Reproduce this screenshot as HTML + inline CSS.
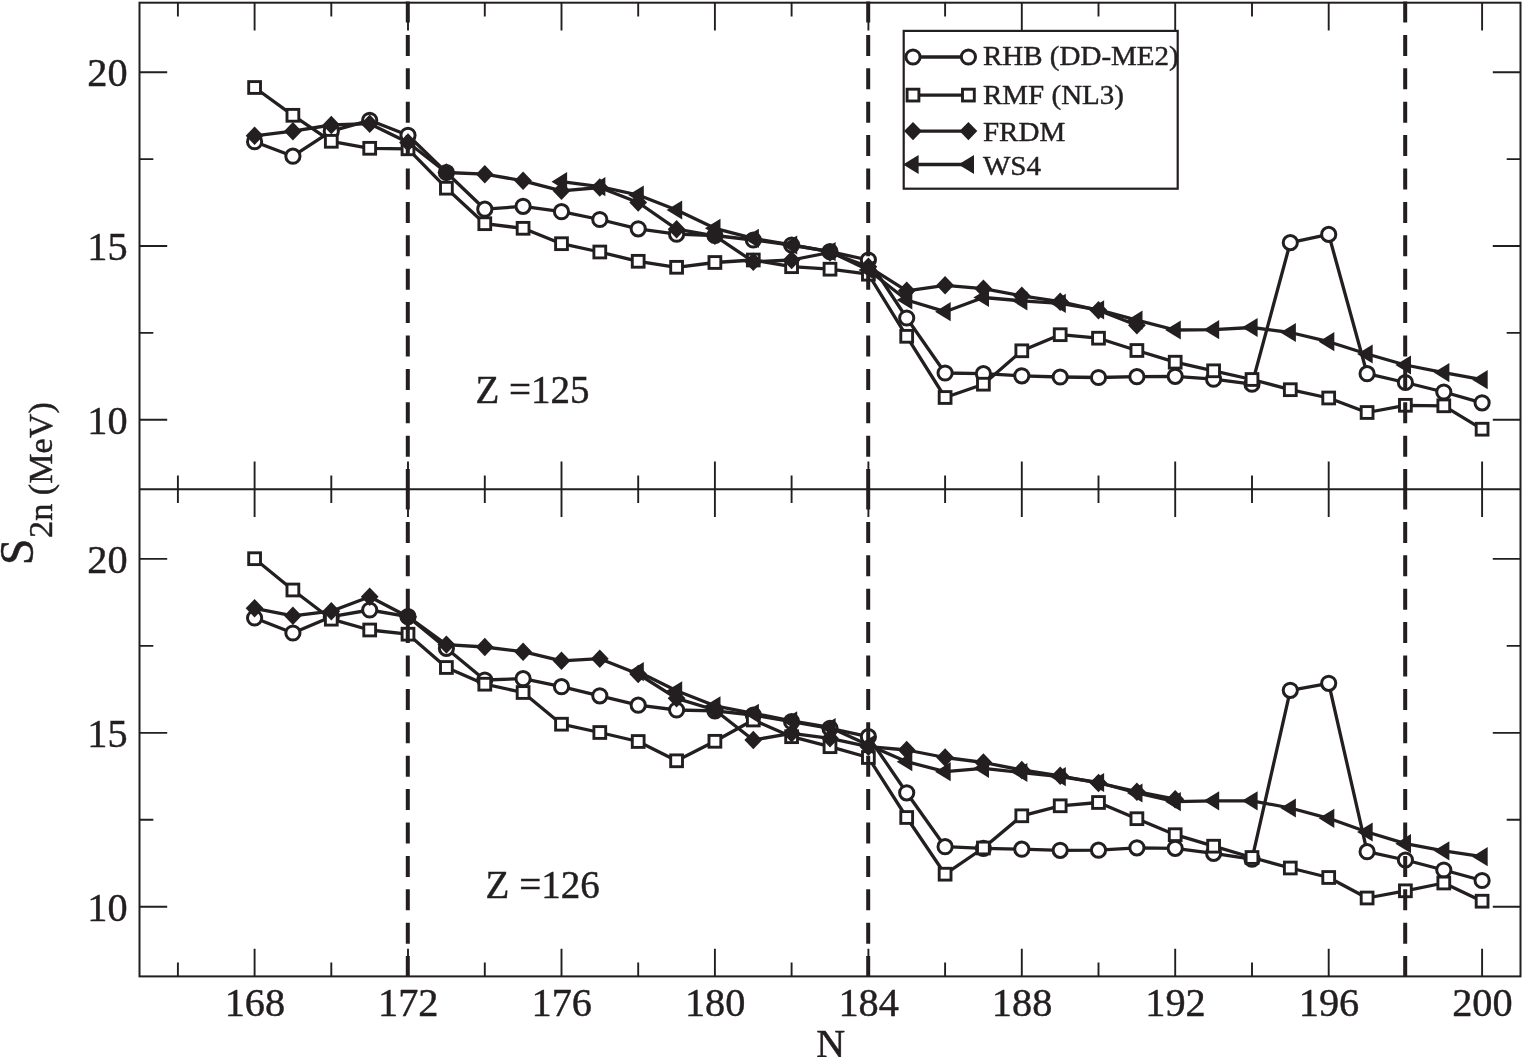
<!DOCTYPE html>
<html lang="en">
<head>
<meta charset="utf-8">
<title>S2n vs N</title>
<style>html,body{margin:0;padding:0;background:#fff}body{width:1523px;height:1057px;overflow:hidden}</style>
</head>
<body>
<svg width="1523" height="1057" viewBox="0 0 1523 1057" style="display:block">
<rect width="1523" height="1057" fill="#fff"/>
<g>
<polyline points="254.6,141.7 292.9,156.2 331.3,131.2 369.7,120.3 408.0,135.3 446.4,172.5 484.8,209.2 523.1,206.3 561.5,211.7 599.8,219.5 638.2,228.8 676.6,234.2 714.9,235.5 753.3,240.0 791.6,245.0 830.0,251.7 868.4,260.0 906.7,318.0 945.1,373.0 983.4,373.7 1021.8,375.8 1060.2,377.0 1098.5,377.5 1136.9,376.7 1175.2,376.3 1213.6,379.2 1252.0,384.2 1290.3,242.6 1328.7,234.4 1367.1,373.7 1405.4,382.5 1443.8,392.0 1482.1,402.8" fill="none" stroke="#231f20" stroke-width="3.3" stroke-linejoin="round"/>
<circle cx="254.6" cy="141.7" r="7.1" fill="#fff" stroke="#231f20" stroke-width="3.0"/>
<circle cx="292.9" cy="156.2" r="7.1" fill="#fff" stroke="#231f20" stroke-width="3.0"/>
<circle cx="331.3" cy="131.2" r="7.1" fill="#fff" stroke="#231f20" stroke-width="3.0"/>
<circle cx="369.7" cy="120.3" r="7.1" fill="#fff" stroke="#231f20" stroke-width="3.0"/>
<circle cx="408.0" cy="135.3" r="7.1" fill="#fff" stroke="#231f20" stroke-width="3.0"/>
<circle cx="446.4" cy="172.5" r="7.1" fill="#fff" stroke="#231f20" stroke-width="3.0"/>
<circle cx="484.8" cy="209.2" r="7.1" fill="#fff" stroke="#231f20" stroke-width="3.0"/>
<circle cx="523.1" cy="206.3" r="7.1" fill="#fff" stroke="#231f20" stroke-width="3.0"/>
<circle cx="561.5" cy="211.7" r="7.1" fill="#fff" stroke="#231f20" stroke-width="3.0"/>
<circle cx="599.8" cy="219.5" r="7.1" fill="#fff" stroke="#231f20" stroke-width="3.0"/>
<circle cx="638.2" cy="228.8" r="7.1" fill="#fff" stroke="#231f20" stroke-width="3.0"/>
<circle cx="676.6" cy="234.2" r="7.1" fill="#fff" stroke="#231f20" stroke-width="3.0"/>
<circle cx="714.9" cy="235.5" r="7.1" fill="#fff" stroke="#231f20" stroke-width="3.0"/>
<circle cx="753.3" cy="240.0" r="7.1" fill="#fff" stroke="#231f20" stroke-width="3.0"/>
<circle cx="791.6" cy="245.0" r="7.1" fill="#fff" stroke="#231f20" stroke-width="3.0"/>
<circle cx="830.0" cy="251.7" r="7.1" fill="#fff" stroke="#231f20" stroke-width="3.0"/>
<circle cx="868.4" cy="260.0" r="7.1" fill="#fff" stroke="#231f20" stroke-width="3.0"/>
<circle cx="906.7" cy="318.0" r="7.1" fill="#fff" stroke="#231f20" stroke-width="3.0"/>
<circle cx="945.1" cy="373.0" r="7.1" fill="#fff" stroke="#231f20" stroke-width="3.0"/>
<circle cx="983.4" cy="373.7" r="7.1" fill="#fff" stroke="#231f20" stroke-width="3.0"/>
<circle cx="1021.8" cy="375.8" r="7.1" fill="#fff" stroke="#231f20" stroke-width="3.0"/>
<circle cx="1060.2" cy="377.0" r="7.1" fill="#fff" stroke="#231f20" stroke-width="3.0"/>
<circle cx="1098.5" cy="377.5" r="7.1" fill="#fff" stroke="#231f20" stroke-width="3.0"/>
<circle cx="1136.9" cy="376.7" r="7.1" fill="#fff" stroke="#231f20" stroke-width="3.0"/>
<circle cx="1175.2" cy="376.3" r="7.1" fill="#fff" stroke="#231f20" stroke-width="3.0"/>
<circle cx="1213.6" cy="379.2" r="7.1" fill="#fff" stroke="#231f20" stroke-width="3.0"/>
<circle cx="1252.0" cy="384.2" r="7.1" fill="#fff" stroke="#231f20" stroke-width="3.0"/>
<circle cx="1290.3" cy="242.6" r="7.1" fill="#fff" stroke="#231f20" stroke-width="3.0"/>
<circle cx="1328.7" cy="234.4" r="7.1" fill="#fff" stroke="#231f20" stroke-width="3.0"/>
<circle cx="1367.1" cy="373.7" r="7.1" fill="#fff" stroke="#231f20" stroke-width="3.0"/>
<circle cx="1405.4" cy="382.5" r="7.1" fill="#fff" stroke="#231f20" stroke-width="3.0"/>
<circle cx="1443.8" cy="392.0" r="7.1" fill="#fff" stroke="#231f20" stroke-width="3.0"/>
<circle cx="1482.1" cy="402.8" r="7.1" fill="#fff" stroke="#231f20" stroke-width="3.0"/>
</g>
<g>
<polyline points="254.6,87.5 292.9,115.3 331.3,141.3 369.7,148.3 408.0,148.8 446.4,188.2 484.8,223.7 523.1,228.3 561.5,243.7 599.8,252.0 638.2,261.3 676.6,267.3 714.9,262.5 753.3,260.0 791.6,266.7 830.0,269.2 868.4,274.2 906.7,336.3 945.1,397.5 983.4,384.2 1021.8,350.8 1060.2,334.7 1098.5,338.2 1136.9,350.5 1175.2,362.2 1213.6,370.8 1252.0,379.5 1290.3,389.7 1328.7,398.0 1367.1,412.5 1405.4,405.3 1443.8,405.8 1482.1,429.2" fill="none" stroke="#231f20" stroke-width="3.3" stroke-linejoin="round"/>
<rect x="248.7" y="81.6" width="11.8" height="11.8" fill="#fff" stroke="#231f20" stroke-width="2.9"/>
<rect x="287.0" y="109.4" width="11.8" height="11.8" fill="#fff" stroke="#231f20" stroke-width="2.9"/>
<rect x="325.4" y="135.4" width="11.8" height="11.8" fill="#fff" stroke="#231f20" stroke-width="2.9"/>
<rect x="363.8" y="142.4" width="11.8" height="11.8" fill="#fff" stroke="#231f20" stroke-width="2.9"/>
<rect x="402.1" y="142.9" width="11.8" height="11.8" fill="#fff" stroke="#231f20" stroke-width="2.9"/>
<rect x="440.5" y="182.3" width="11.8" height="11.8" fill="#fff" stroke="#231f20" stroke-width="2.9"/>
<rect x="478.9" y="217.8" width="11.8" height="11.8" fill="#fff" stroke="#231f20" stroke-width="2.9"/>
<rect x="517.2" y="222.4" width="11.8" height="11.8" fill="#fff" stroke="#231f20" stroke-width="2.9"/>
<rect x="555.6" y="237.8" width="11.8" height="11.8" fill="#fff" stroke="#231f20" stroke-width="2.9"/>
<rect x="593.9" y="246.1" width="11.8" height="11.8" fill="#fff" stroke="#231f20" stroke-width="2.9"/>
<rect x="632.3" y="255.4" width="11.8" height="11.8" fill="#fff" stroke="#231f20" stroke-width="2.9"/>
<rect x="670.7" y="261.4" width="11.8" height="11.8" fill="#fff" stroke="#231f20" stroke-width="2.9"/>
<rect x="709.0" y="256.6" width="11.8" height="11.8" fill="#fff" stroke="#231f20" stroke-width="2.9"/>
<rect x="747.4" y="254.1" width="11.8" height="11.8" fill="#fff" stroke="#231f20" stroke-width="2.9"/>
<rect x="785.7" y="260.8" width="11.8" height="11.8" fill="#fff" stroke="#231f20" stroke-width="2.9"/>
<rect x="824.1" y="263.3" width="11.8" height="11.8" fill="#fff" stroke="#231f20" stroke-width="2.9"/>
<rect x="862.5" y="268.3" width="11.8" height="11.8" fill="#fff" stroke="#231f20" stroke-width="2.9"/>
<rect x="900.8" y="330.4" width="11.8" height="11.8" fill="#fff" stroke="#231f20" stroke-width="2.9"/>
<rect x="939.2" y="391.6" width="11.8" height="11.8" fill="#fff" stroke="#231f20" stroke-width="2.9"/>
<rect x="977.5" y="378.3" width="11.8" height="11.8" fill="#fff" stroke="#231f20" stroke-width="2.9"/>
<rect x="1015.9" y="344.9" width="11.8" height="11.8" fill="#fff" stroke="#231f20" stroke-width="2.9"/>
<rect x="1054.3" y="328.8" width="11.8" height="11.8" fill="#fff" stroke="#231f20" stroke-width="2.9"/>
<rect x="1092.6" y="332.3" width="11.8" height="11.8" fill="#fff" stroke="#231f20" stroke-width="2.9"/>
<rect x="1131.0" y="344.6" width="11.8" height="11.8" fill="#fff" stroke="#231f20" stroke-width="2.9"/>
<rect x="1169.3" y="356.3" width="11.8" height="11.8" fill="#fff" stroke="#231f20" stroke-width="2.9"/>
<rect x="1207.7" y="364.9" width="11.8" height="11.8" fill="#fff" stroke="#231f20" stroke-width="2.9"/>
<rect x="1246.1" y="373.6" width="11.8" height="11.8" fill="#fff" stroke="#231f20" stroke-width="2.9"/>
<rect x="1284.4" y="383.8" width="11.8" height="11.8" fill="#fff" stroke="#231f20" stroke-width="2.9"/>
<rect x="1322.8" y="392.1" width="11.8" height="11.8" fill="#fff" stroke="#231f20" stroke-width="2.9"/>
<rect x="1361.2" y="406.6" width="11.8" height="11.8" fill="#fff" stroke="#231f20" stroke-width="2.9"/>
<rect x="1399.5" y="399.4" width="11.8" height="11.8" fill="#fff" stroke="#231f20" stroke-width="2.9"/>
<rect x="1437.9" y="399.9" width="11.8" height="11.8" fill="#fff" stroke="#231f20" stroke-width="2.9"/>
<rect x="1476.2" y="423.3" width="11.8" height="11.8" fill="#fff" stroke="#231f20" stroke-width="2.9"/>
</g>
<g>
<polyline points="254.6,135.8 292.9,131.2 331.3,125.0 369.7,123.7 408.0,142.5 446.4,172.5 484.8,174.2 523.1,180.8 561.5,190.8 599.8,187.5 638.2,202.5 676.6,229.2 714.9,235.8 753.3,261.7 791.6,260.0 830.0,252.5 868.4,266.7 906.7,290.8 945.1,285.3 983.4,288.7 1021.8,295.8 1060.2,301.7 1098.5,310.3 1136.9,325.2" fill="none" stroke="#231f20" stroke-width="3.3" stroke-linejoin="round"/>
<polygon points="245.7,135.8 254.6,126.6 263.5,135.8 254.6,145.0" fill="#231f20"/>
<polygon points="284.0,131.2 292.9,122.0 301.8,131.2 292.9,140.4" fill="#231f20"/>
<polygon points="322.4,125.0 331.3,115.8 340.2,125.0 331.3,134.2" fill="#231f20"/>
<polygon points="360.8,123.7 369.7,114.5 378.6,123.7 369.7,132.9" fill="#231f20"/>
<polygon points="399.1,142.5 408.0,133.3 416.9,142.5 408.0,151.7" fill="#231f20"/>
<polygon points="437.5,172.5 446.4,163.3 455.3,172.5 446.4,181.7" fill="#231f20"/>
<polygon points="475.9,174.2 484.8,165.0 493.6,174.2 484.8,183.4" fill="#231f20"/>
<polygon points="514.2,180.8 523.1,171.6 532.0,180.8 523.1,190.0" fill="#231f20"/>
<polygon points="552.6,190.8 561.5,181.6 570.4,190.8 561.5,200.0" fill="#231f20"/>
<polygon points="590.9,187.5 599.8,178.3 608.7,187.5 599.8,196.7" fill="#231f20"/>
<polygon points="629.3,202.5 638.2,193.3 647.1,202.5 638.2,211.7" fill="#231f20"/>
<polygon points="667.7,229.2 676.6,220.0 685.5,229.2 676.6,238.4" fill="#231f20"/>
<polygon points="706.0,235.8 714.9,226.6 723.8,235.8 714.9,245.0" fill="#231f20"/>
<polygon points="744.4,261.7 753.3,252.5 762.2,261.7 753.3,270.9" fill="#231f20"/>
<polygon points="782.7,260.0 791.6,250.8 800.5,260.0 791.6,269.2" fill="#231f20"/>
<polygon points="821.1,252.5 830.0,243.3 838.9,252.5 830.0,261.7" fill="#231f20"/>
<polygon points="859.5,266.7 868.4,257.5 877.3,266.7 868.4,275.9" fill="#231f20"/>
<polygon points="897.8,290.8 906.7,281.6 915.6,290.8 906.7,300.0" fill="#231f20"/>
<polygon points="936.2,285.3 945.1,276.1 954.0,285.3 945.1,294.5" fill="#231f20"/>
<polygon points="974.5,288.7 983.4,279.5 992.3,288.7 983.4,297.9" fill="#231f20"/>
<polygon points="1012.9,295.8 1021.8,286.6 1030.7,295.8 1021.8,305.0" fill="#231f20"/>
<polygon points="1051.3,301.7 1060.2,292.5 1069.1,301.7 1060.2,310.9" fill="#231f20"/>
<polygon points="1089.6,310.3 1098.5,301.1 1107.4,310.3 1098.5,319.5" fill="#231f20"/>
<polygon points="1128.0,325.2 1136.9,316.0 1145.8,325.2 1136.9,334.4" fill="#231f20"/>
</g>
<g>
<polyline points="561.5,181.7 599.8,186.7 638.2,195.0 676.6,210.0 714.9,228.3 753.3,238.3 791.6,245.0 830.0,251.7 868.4,270.0 906.7,300.0 945.1,311.7 983.4,297.5 1021.8,300.8 1060.2,303.3 1098.5,309.8 1136.9,320.2 1175.2,330.0 1213.6,329.7 1252.0,327.5 1290.3,332.5 1328.7,341.7 1367.1,354.0 1405.4,365.0 1443.8,372.6 1482.1,379.7" fill="none" stroke="#231f20" stroke-width="3.3" stroke-linejoin="round"/>
<polygon points="551.5,181.7 567.1,172.1 567.1,191.3" fill="#231f20"/>
<polygon points="589.8,186.7 605.4,177.1 605.4,196.3" fill="#231f20"/>
<polygon points="628.2,195.0 643.8,185.4 643.8,204.6" fill="#231f20"/>
<polygon points="666.6,210.0 682.2,200.4 682.2,219.6" fill="#231f20"/>
<polygon points="704.9,228.3 720.5,218.7 720.5,237.9" fill="#231f20"/>
<polygon points="743.3,238.3 758.9,228.7 758.9,247.9" fill="#231f20"/>
<polygon points="781.6,245.0 797.2,235.4 797.2,254.6" fill="#231f20"/>
<polygon points="820.0,251.7 835.6,242.1 835.6,261.3" fill="#231f20"/>
<polygon points="858.4,270.0 874.0,260.4 874.0,279.6" fill="#231f20"/>
<polygon points="896.7,300.0 912.3,290.4 912.3,309.6" fill="#231f20"/>
<polygon points="935.1,311.7 950.7,302.1 950.7,321.3" fill="#231f20"/>
<polygon points="973.4,297.5 989.0,287.9 989.0,307.1" fill="#231f20"/>
<polygon points="1011.8,300.8 1027.4,291.2 1027.4,310.4" fill="#231f20"/>
<polygon points="1050.2,303.3 1065.8,293.7 1065.8,312.9" fill="#231f20"/>
<polygon points="1088.5,309.8 1104.1,300.2 1104.1,319.4" fill="#231f20"/>
<polygon points="1126.9,320.2 1142.5,310.6 1142.5,329.8" fill="#231f20"/>
<polygon points="1165.2,330.0 1180.8,320.4 1180.8,339.6" fill="#231f20"/>
<polygon points="1203.6,329.7 1219.2,320.1 1219.2,339.3" fill="#231f20"/>
<polygon points="1242.0,327.5 1257.6,317.9 1257.6,337.1" fill="#231f20"/>
<polygon points="1280.3,332.5 1295.9,322.9 1295.9,342.1" fill="#231f20"/>
<polygon points="1318.7,341.7 1334.3,332.1 1334.3,351.3" fill="#231f20"/>
<polygon points="1357.1,354.0 1372.7,344.4 1372.7,363.6" fill="#231f20"/>
<polygon points="1395.4,365.0 1411.0,355.4 1411.0,374.6" fill="#231f20"/>
<polygon points="1433.8,372.6 1449.4,363.0 1449.4,382.2" fill="#231f20"/>
<polygon points="1472.1,379.7 1487.7,370.1 1487.7,389.3" fill="#231f20"/>
</g>
<g>
<polyline points="254.6,618.0 292.9,633.0 331.3,616.7 369.7,610.0 408.0,616.7 446.4,648.3 484.8,680.0 523.1,678.7 561.5,686.7 599.8,695.8 638.2,705.2 676.6,710.0 714.9,710.8 753.3,715.0 791.6,721.7 830.0,728.3 868.4,736.7 906.7,792.8 945.1,846.7 983.4,848.3 1021.8,849.2 1060.2,850.3 1098.5,850.2 1136.9,847.8 1175.2,848.3 1213.6,853.3 1252.0,859.2 1290.3,690.3 1328.7,683.3 1367.1,851.7 1405.4,860.0 1443.8,870.0 1482.1,880.5" fill="none" stroke="#231f20" stroke-width="3.3" stroke-linejoin="round"/>
<circle cx="254.6" cy="618.0" r="7.1" fill="#fff" stroke="#231f20" stroke-width="3.0"/>
<circle cx="292.9" cy="633.0" r="7.1" fill="#fff" stroke="#231f20" stroke-width="3.0"/>
<circle cx="331.3" cy="616.7" r="7.1" fill="#fff" stroke="#231f20" stroke-width="3.0"/>
<circle cx="369.7" cy="610.0" r="7.1" fill="#fff" stroke="#231f20" stroke-width="3.0"/>
<circle cx="408.0" cy="616.7" r="7.1" fill="#fff" stroke="#231f20" stroke-width="3.0"/>
<circle cx="446.4" cy="648.3" r="7.1" fill="#fff" stroke="#231f20" stroke-width="3.0"/>
<circle cx="484.8" cy="680.0" r="7.1" fill="#fff" stroke="#231f20" stroke-width="3.0"/>
<circle cx="523.1" cy="678.7" r="7.1" fill="#fff" stroke="#231f20" stroke-width="3.0"/>
<circle cx="561.5" cy="686.7" r="7.1" fill="#fff" stroke="#231f20" stroke-width="3.0"/>
<circle cx="599.8" cy="695.8" r="7.1" fill="#fff" stroke="#231f20" stroke-width="3.0"/>
<circle cx="638.2" cy="705.2" r="7.1" fill="#fff" stroke="#231f20" stroke-width="3.0"/>
<circle cx="676.6" cy="710.0" r="7.1" fill="#fff" stroke="#231f20" stroke-width="3.0"/>
<circle cx="714.9" cy="710.8" r="7.1" fill="#fff" stroke="#231f20" stroke-width="3.0"/>
<circle cx="753.3" cy="715.0" r="7.1" fill="#fff" stroke="#231f20" stroke-width="3.0"/>
<circle cx="791.6" cy="721.7" r="7.1" fill="#fff" stroke="#231f20" stroke-width="3.0"/>
<circle cx="830.0" cy="728.3" r="7.1" fill="#fff" stroke="#231f20" stroke-width="3.0"/>
<circle cx="868.4" cy="736.7" r="7.1" fill="#fff" stroke="#231f20" stroke-width="3.0"/>
<circle cx="906.7" cy="792.8" r="7.1" fill="#fff" stroke="#231f20" stroke-width="3.0"/>
<circle cx="945.1" cy="846.7" r="7.1" fill="#fff" stroke="#231f20" stroke-width="3.0"/>
<circle cx="983.4" cy="848.3" r="7.1" fill="#fff" stroke="#231f20" stroke-width="3.0"/>
<circle cx="1021.8" cy="849.2" r="7.1" fill="#fff" stroke="#231f20" stroke-width="3.0"/>
<circle cx="1060.2" cy="850.3" r="7.1" fill="#fff" stroke="#231f20" stroke-width="3.0"/>
<circle cx="1098.5" cy="850.2" r="7.1" fill="#fff" stroke="#231f20" stroke-width="3.0"/>
<circle cx="1136.9" cy="847.8" r="7.1" fill="#fff" stroke="#231f20" stroke-width="3.0"/>
<circle cx="1175.2" cy="848.3" r="7.1" fill="#fff" stroke="#231f20" stroke-width="3.0"/>
<circle cx="1213.6" cy="853.3" r="7.1" fill="#fff" stroke="#231f20" stroke-width="3.0"/>
<circle cx="1252.0" cy="859.2" r="7.1" fill="#fff" stroke="#231f20" stroke-width="3.0"/>
<circle cx="1290.3" cy="690.3" r="7.1" fill="#fff" stroke="#231f20" stroke-width="3.0"/>
<circle cx="1328.7" cy="683.3" r="7.1" fill="#fff" stroke="#231f20" stroke-width="3.0"/>
<circle cx="1367.1" cy="851.7" r="7.1" fill="#fff" stroke="#231f20" stroke-width="3.0"/>
<circle cx="1405.4" cy="860.0" r="7.1" fill="#fff" stroke="#231f20" stroke-width="3.0"/>
<circle cx="1443.8" cy="870.0" r="7.1" fill="#fff" stroke="#231f20" stroke-width="3.0"/>
<circle cx="1482.1" cy="880.5" r="7.1" fill="#fff" stroke="#231f20" stroke-width="3.0"/>
</g>
<g>
<polyline points="254.6,558.7 292.9,590.0 331.3,619.2 369.7,630.0 408.0,634.2 446.4,667.5 484.8,684.2 523.1,692.5 561.5,724.2 599.8,732.5 638.2,741.5 676.6,760.8 714.9,741.3 753.3,720.0 791.6,736.7 830.0,746.7 868.4,757.5 906.7,817.5 945.1,874.2 983.4,848.0 1021.8,815.8 1060.2,805.8 1098.5,802.5 1136.9,818.7 1175.2,834.7 1213.6,846.2 1252.0,857.5 1290.3,868.0 1328.7,877.5 1367.1,898.0 1405.4,890.8 1443.8,883.0 1482.1,901.2" fill="none" stroke="#231f20" stroke-width="3.3" stroke-linejoin="round"/>
<rect x="248.7" y="552.8" width="11.8" height="11.8" fill="#fff" stroke="#231f20" stroke-width="2.9"/>
<rect x="287.0" y="584.1" width="11.8" height="11.8" fill="#fff" stroke="#231f20" stroke-width="2.9"/>
<rect x="325.4" y="613.3" width="11.8" height="11.8" fill="#fff" stroke="#231f20" stroke-width="2.9"/>
<rect x="363.8" y="624.1" width="11.8" height="11.8" fill="#fff" stroke="#231f20" stroke-width="2.9"/>
<rect x="402.1" y="628.3" width="11.8" height="11.8" fill="#fff" stroke="#231f20" stroke-width="2.9"/>
<rect x="440.5" y="661.6" width="11.8" height="11.8" fill="#fff" stroke="#231f20" stroke-width="2.9"/>
<rect x="478.9" y="678.3" width="11.8" height="11.8" fill="#fff" stroke="#231f20" stroke-width="2.9"/>
<rect x="517.2" y="686.6" width="11.8" height="11.8" fill="#fff" stroke="#231f20" stroke-width="2.9"/>
<rect x="555.6" y="718.3" width="11.8" height="11.8" fill="#fff" stroke="#231f20" stroke-width="2.9"/>
<rect x="593.9" y="726.6" width="11.8" height="11.8" fill="#fff" stroke="#231f20" stroke-width="2.9"/>
<rect x="632.3" y="735.6" width="11.8" height="11.8" fill="#fff" stroke="#231f20" stroke-width="2.9"/>
<rect x="670.7" y="754.9" width="11.8" height="11.8" fill="#fff" stroke="#231f20" stroke-width="2.9"/>
<rect x="709.0" y="735.4" width="11.8" height="11.8" fill="#fff" stroke="#231f20" stroke-width="2.9"/>
<rect x="747.4" y="714.1" width="11.8" height="11.8" fill="#fff" stroke="#231f20" stroke-width="2.9"/>
<rect x="785.7" y="730.8" width="11.8" height="11.8" fill="#fff" stroke="#231f20" stroke-width="2.9"/>
<rect x="824.1" y="740.8" width="11.8" height="11.8" fill="#fff" stroke="#231f20" stroke-width="2.9"/>
<rect x="862.5" y="751.6" width="11.8" height="11.8" fill="#fff" stroke="#231f20" stroke-width="2.9"/>
<rect x="900.8" y="811.6" width="11.8" height="11.8" fill="#fff" stroke="#231f20" stroke-width="2.9"/>
<rect x="939.2" y="868.3" width="11.8" height="11.8" fill="#fff" stroke="#231f20" stroke-width="2.9"/>
<rect x="977.5" y="842.1" width="11.8" height="11.8" fill="#fff" stroke="#231f20" stroke-width="2.9"/>
<rect x="1015.9" y="809.9" width="11.8" height="11.8" fill="#fff" stroke="#231f20" stroke-width="2.9"/>
<rect x="1054.3" y="799.9" width="11.8" height="11.8" fill="#fff" stroke="#231f20" stroke-width="2.9"/>
<rect x="1092.6" y="796.6" width="11.8" height="11.8" fill="#fff" stroke="#231f20" stroke-width="2.9"/>
<rect x="1131.0" y="812.8" width="11.8" height="11.8" fill="#fff" stroke="#231f20" stroke-width="2.9"/>
<rect x="1169.3" y="828.8" width="11.8" height="11.8" fill="#fff" stroke="#231f20" stroke-width="2.9"/>
<rect x="1207.7" y="840.3" width="11.8" height="11.8" fill="#fff" stroke="#231f20" stroke-width="2.9"/>
<rect x="1246.1" y="851.6" width="11.8" height="11.8" fill="#fff" stroke="#231f20" stroke-width="2.9"/>
<rect x="1284.4" y="862.1" width="11.8" height="11.8" fill="#fff" stroke="#231f20" stroke-width="2.9"/>
<rect x="1322.8" y="871.6" width="11.8" height="11.8" fill="#fff" stroke="#231f20" stroke-width="2.9"/>
<rect x="1361.2" y="892.1" width="11.8" height="11.8" fill="#fff" stroke="#231f20" stroke-width="2.9"/>
<rect x="1399.5" y="884.9" width="11.8" height="11.8" fill="#fff" stroke="#231f20" stroke-width="2.9"/>
<rect x="1437.9" y="877.1" width="11.8" height="11.8" fill="#fff" stroke="#231f20" stroke-width="2.9"/>
<rect x="1476.2" y="895.3" width="11.8" height="11.8" fill="#fff" stroke="#231f20" stroke-width="2.9"/>
</g>
<g>
<polyline points="254.6,608.3 292.9,615.8 331.3,611.2 369.7,596.7 408.0,616.7 446.4,644.6 484.8,647.0 523.1,651.7 561.5,660.8 599.8,658.7 638.2,674.0 676.6,698.3 714.9,710.0 753.3,740.0 791.6,733.3 830.0,738.3 868.4,746.7 906.7,750.0 945.1,757.5 983.4,762.5 1021.8,770.0 1060.2,775.8 1098.5,783.0 1136.9,791.7 1175.2,799.2" fill="none" stroke="#231f20" stroke-width="3.3" stroke-linejoin="round"/>
<polygon points="245.7,608.3 254.6,599.1 263.5,608.3 254.6,617.5" fill="#231f20"/>
<polygon points="284.0,615.8 292.9,606.6 301.8,615.8 292.9,625.0" fill="#231f20"/>
<polygon points="322.4,611.2 331.3,602.0 340.2,611.2 331.3,620.4" fill="#231f20"/>
<polygon points="360.8,596.7 369.7,587.5 378.6,596.7 369.7,605.9" fill="#231f20"/>
<polygon points="399.1,616.7 408.0,607.5 416.9,616.7 408.0,625.9" fill="#231f20"/>
<polygon points="437.5,644.6 446.4,635.4 455.3,644.6 446.4,653.8" fill="#231f20"/>
<polygon points="475.9,647.0 484.8,637.8 493.6,647.0 484.8,656.2" fill="#231f20"/>
<polygon points="514.2,651.7 523.1,642.5 532.0,651.7 523.1,660.9" fill="#231f20"/>
<polygon points="552.6,660.8 561.5,651.6 570.4,660.8 561.5,670.0" fill="#231f20"/>
<polygon points="590.9,658.7 599.8,649.5 608.7,658.7 599.8,667.9" fill="#231f20"/>
<polygon points="629.3,674.0 638.2,664.8 647.1,674.0 638.2,683.2" fill="#231f20"/>
<polygon points="667.7,698.3 676.6,689.1 685.5,698.3 676.6,707.5" fill="#231f20"/>
<polygon points="706.0,710.0 714.9,700.8 723.8,710.0 714.9,719.2" fill="#231f20"/>
<polygon points="744.4,740.0 753.3,730.8 762.2,740.0 753.3,749.2" fill="#231f20"/>
<polygon points="782.7,733.3 791.6,724.1 800.5,733.3 791.6,742.5" fill="#231f20"/>
<polygon points="821.1,738.3 830.0,729.1 838.9,738.3 830.0,747.5" fill="#231f20"/>
<polygon points="859.5,746.7 868.4,737.5 877.3,746.7 868.4,755.9" fill="#231f20"/>
<polygon points="897.8,750.0 906.7,740.8 915.6,750.0 906.7,759.2" fill="#231f20"/>
<polygon points="936.2,757.5 945.1,748.3 954.0,757.5 945.1,766.7" fill="#231f20"/>
<polygon points="974.5,762.5 983.4,753.3 992.3,762.5 983.4,771.7" fill="#231f20"/>
<polygon points="1012.9,770.0 1021.8,760.8 1030.7,770.0 1021.8,779.2" fill="#231f20"/>
<polygon points="1051.3,775.8 1060.2,766.6 1069.1,775.8 1060.2,785.0" fill="#231f20"/>
<polygon points="1089.6,783.0 1098.5,773.8 1107.4,783.0 1098.5,792.2" fill="#231f20"/>
<polygon points="1128.0,791.7 1136.9,782.5 1145.8,791.7 1136.9,800.9" fill="#231f20"/>
<polygon points="1166.3,799.2 1175.2,790.0 1184.2,799.2 1175.2,808.4" fill="#231f20"/>
</g>
<g>
<polyline points="638.2,671.7 676.6,690.8 714.9,705.8 753.3,713.3 791.6,720.8 830.0,727.5 868.4,745.0 906.7,761.7 945.1,771.7 983.4,768.3 1021.8,772.5 1060.2,776.7 1098.5,782.5 1136.9,793.0 1175.2,801.7 1213.6,800.8 1252.0,800.8 1290.3,808.0 1328.7,818.3 1367.1,832.0 1405.4,843.7 1443.8,850.8 1482.1,856.7" fill="none" stroke="#231f20" stroke-width="3.3" stroke-linejoin="round"/>
<polygon points="628.2,671.7 643.8,662.1 643.8,681.3" fill="#231f20"/>
<polygon points="666.6,690.8 682.2,681.2 682.2,700.4" fill="#231f20"/>
<polygon points="704.9,705.8 720.5,696.2 720.5,715.4" fill="#231f20"/>
<polygon points="743.3,713.3 758.9,703.7 758.9,722.9" fill="#231f20"/>
<polygon points="781.6,720.8 797.2,711.2 797.2,730.4" fill="#231f20"/>
<polygon points="820.0,727.5 835.6,717.9 835.6,737.1" fill="#231f20"/>
<polygon points="858.4,745.0 874.0,735.4 874.0,754.6" fill="#231f20"/>
<polygon points="896.7,761.7 912.3,752.1 912.3,771.3" fill="#231f20"/>
<polygon points="935.1,771.7 950.7,762.1 950.7,781.3" fill="#231f20"/>
<polygon points="973.4,768.3 989.0,758.7 989.0,777.9" fill="#231f20"/>
<polygon points="1011.8,772.5 1027.4,762.9 1027.4,782.1" fill="#231f20"/>
<polygon points="1050.2,776.7 1065.8,767.1 1065.8,786.3" fill="#231f20"/>
<polygon points="1088.5,782.5 1104.1,772.9 1104.1,792.1" fill="#231f20"/>
<polygon points="1126.9,793.0 1142.5,783.4 1142.5,802.6" fill="#231f20"/>
<polygon points="1165.2,801.7 1180.8,792.1 1180.8,811.3" fill="#231f20"/>
<polygon points="1203.6,800.8 1219.2,791.2 1219.2,810.4" fill="#231f20"/>
<polygon points="1242.0,800.8 1257.6,791.2 1257.6,810.4" fill="#231f20"/>
<polygon points="1280.3,808.0 1295.9,798.4 1295.9,817.6" fill="#231f20"/>
<polygon points="1318.7,818.3 1334.3,808.7 1334.3,827.9" fill="#231f20"/>
<polygon points="1357.1,832.0 1372.7,822.4 1372.7,841.6" fill="#231f20"/>
<polygon points="1395.4,843.7 1411.0,834.1 1411.0,853.3" fill="#231f20"/>
<polygon points="1433.8,850.8 1449.4,841.2 1449.4,860.4" fill="#231f20"/>
<polygon points="1472.1,856.7 1487.7,847.1 1487.7,866.3" fill="#231f20"/>
</g>
<g stroke="#231f20" fill="none">
<rect x="139.5" y="2.7" width="1381.0" height="973.6999999999999" stroke-width="2.0"/>
<line x1="139.5" y1="489.3" x2="1520.5" y2="489.3" stroke-width="2.0"/>
<path d="M177.9 2.7v13.8M177.9 475.5v27.6M177.9 976.4v-13.8M254.6 2.7v27.7M254.6 461.6v55.4M254.6 976.4v-27.7M331.3 2.7v13.8M331.3 475.5v27.6M331.3 976.4v-13.8M408.0 2.7v27.7M408.0 461.6v55.4M408.0 976.4v-27.7M484.8 2.7v13.8M484.8 475.5v27.6M484.8 976.4v-13.8M561.5 2.7v27.7M561.5 461.6v55.4M561.5 976.4v-27.7M638.2 2.7v13.8M638.2 475.5v27.6M638.2 976.4v-13.8M714.9 2.7v27.7M714.9 461.6v55.4M714.9 976.4v-27.7M791.6 2.7v13.8M791.6 475.5v27.6M791.6 976.4v-13.8M868.4 2.7v27.7M868.4 461.6v55.4M868.4 976.4v-27.7M945.1 2.7v13.8M945.1 475.5v27.6M945.1 976.4v-13.8M1021.8 2.7v27.7M1021.8 461.6v55.4M1021.8 976.4v-27.7M1098.5 2.7v13.8M1098.5 475.5v27.6M1098.5 976.4v-13.8M1175.2 2.7v27.7M1175.2 461.6v55.4M1175.2 976.4v-27.7M1252.0 2.7v13.8M1252.0 475.5v27.6M1252.0 976.4v-13.8M1328.7 2.7v27.7M1328.7 461.6v55.4M1328.7 976.4v-27.7M1405.4 2.7v13.8M1405.4 475.5v27.6M1405.4 976.4v-13.8M1482.1 2.7v27.7M1482.1 461.6v55.4M1482.1 976.4v-27.7M139.5 419.8h27.7M1520.5 419.8h-27.7M139.5 332.9h13.8M1520.5 332.9h-13.8M139.5 246.0h27.7M1520.5 246.0h-27.7M139.5 159.1h13.8M1520.5 159.1h-13.8M139.5 72.2h27.7M1520.5 72.2h-27.7M139.5 906.8h27.7M1520.5 906.8h-27.7M139.5 819.8h13.8M1520.5 819.8h-13.8M139.5 732.9h27.7M1520.5 732.9h-27.7M139.5 645.9h13.8M1520.5 645.9h-13.8M139.5 558.9h27.7M1520.5 558.9h-27.7" stroke-width="1.9"/>
</g>
<g stroke="#231f20" stroke-width="4.0" stroke-dasharray="21 12.4">
<line x1="407.8" y1="1.5" x2="407.8" y2="489.3"/>
<line x1="407.8" y1="488.5" x2="407.8" y2="976.4"/>
<line x1="868.2" y1="1.5" x2="868.2" y2="489.3"/>
<line x1="868.2" y1="488.5" x2="868.2" y2="976.4"/>
<line x1="1405.2" y1="1.5" x2="1405.2" y2="489.3"/>
<line x1="1405.2" y1="488.5" x2="1405.2" y2="976.4"/>
</g>
<rect x="903.7" y="30.9" width="274.0" height="157.8" fill="#fff" stroke="#231f20" stroke-width="2.2"/>
<line x1="913.0" y1="57.0" x2="968.4" y2="57.0" stroke="#231f20" stroke-width="3.3"/>
<circle cx="913.0" cy="57.0" r="7.1" fill="#fff" stroke="#231f20" stroke-width="3.0"/>
<circle cx="968.4" cy="57.0" r="7.1" fill="#fff" stroke="#231f20" stroke-width="3.0"/>
<text transform="translate(983.0 64.9) scale(1.025 1)" font-family="'Liberation Serif',serif" stroke="#231f20" stroke-width="0.45" font-size="28.3" fill="#231f20">RHB (DD-ME2)</text>
<line x1="913.0" y1="95.1" x2="968.4" y2="95.1" stroke="#231f20" stroke-width="3.3"/>
<rect x="907.1" y="89.2" width="11.8" height="11.8" fill="#fff" stroke="#231f20" stroke-width="2.9"/>
<rect x="962.5" y="89.2" width="11.8" height="11.8" fill="#fff" stroke="#231f20" stroke-width="2.9"/>
<text transform="translate(983.0 103.8) scale(1.025 1)" font-family="'Liberation Serif',serif" stroke="#231f20" stroke-width="0.45" font-size="28.3" fill="#231f20">RMF (NL3)</text>
<line x1="913.0" y1="131.1" x2="968.4" y2="131.1" stroke="#231f20" stroke-width="3.3"/>
<polygon points="904.1,131.1 913.0,121.9 921.9,131.1 913.0,140.3" fill="#231f20"/>
<polygon points="959.5,131.1 968.4,121.9 977.3,131.1 968.4,140.3" fill="#231f20"/>
<text transform="translate(983.0 141.0) scale(1.025 1)" font-family="'Liberation Serif',serif" stroke="#231f20" stroke-width="0.45" font-size="28.3" fill="#231f20">FRDM</text>
<line x1="913.0" y1="164.5" x2="968.4" y2="164.5" stroke="#231f20" stroke-width="3.3"/>
<polygon points="903.0,164.5 918.6,154.9 918.6,174.1" fill="#231f20"/>
<polygon points="958.4,164.5 974.0,154.9 974.0,174.1" fill="#231f20"/>
<text transform="translate(983.0 174.8) scale(1.025 1)" font-family="'Liberation Serif',serif" stroke="#231f20" stroke-width="0.45" font-size="28.3" fill="#231f20">WS4</text>
<g font-family="'Liberation Serif',serif" stroke="#231f20" stroke-width="0.45" font-size="40.3" fill="#231f20">
<text x="254.9" y="1016.2" text-anchor="middle">168</text>
<text x="408.3" y="1016.2" text-anchor="middle">172</text>
<text x="561.8" y="1016.2" text-anchor="middle">176</text>
<text x="715.2" y="1016.2" text-anchor="middle">180</text>
<text x="868.7" y="1016.2" text-anchor="middle">184</text>
<text x="1022.1" y="1016.2" text-anchor="middle">188</text>
<text x="1175.5" y="1016.2" text-anchor="middle">192</text>
<text x="1329.0" y="1016.2" text-anchor="middle">196</text>
<text x="1482.4" y="1016.2" text-anchor="middle">200</text>
<text x="127.6" y="433.9" text-anchor="end">10</text>
<text x="127.6" y="260.1" text-anchor="end">15</text>
<text x="127.6" y="86.3" text-anchor="end">20</text>
<text x="127.6" y="920.9" text-anchor="end">10</text>
<text x="127.6" y="747.0" text-anchor="end">15</text>
<text x="127.6" y="573.0" text-anchor="end">20</text>
<text x="475.4" y="402.9" font-size="39">Z =125</text>
<text x="485.6" y="897.8" font-size="39">Z =126</text>
<text x="830.7" y="1057" text-anchor="middle" font-size="40">N</text>
</g>
<g transform="translate(33.2 565.3) rotate(-90)" font-family="'Liberation Serif',serif" stroke="#231f20" stroke-width="0.45" fill="#231f20">
<text x="0" y="0" font-size="48">S</text>
<text x="27.4" y="18.7" font-size="34.2">2n (MeV)</text>
</g>
</svg>
</body>
</html>
